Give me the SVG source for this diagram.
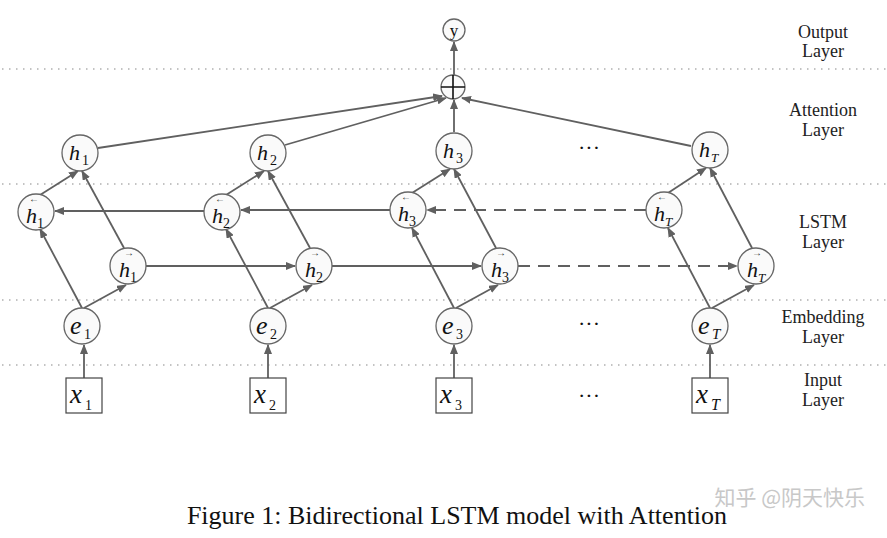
<svg xmlns="http://www.w3.org/2000/svg" width="887" height="538" viewBox="0 0 887 538">
<style>
.n{fill:#fafafa;stroke:#666;stroke-width:1.3}
.c{stroke:#606060;stroke-width:1.8;fill:none;marker-end:url(#a)}
.d{stroke-dasharray:12 8}
.dot{stroke:#888;stroke-width:1.2;stroke-dasharray:1.5 5.5}
.t{font-family:"Liberation Serif",serif;fill:#111}
.v{font-family:"Liberation Serif",serif;font-style:italic;fill:#111}
.s{font-family:"Liberation Serif",serif;fill:#111;font-size:14px}
.r{font-family:"Liberation Serif",serif;fill:#333;font-size:10px}
.l{font-family:"Liberation Serif",serif;fill:#222;font-size:18px;text-anchor:middle}
</style>
<defs><marker id="a" markerWidth="10" markerHeight="8" refX="9" refY="4" orient="auto" markerUnits="userSpaceOnUse"><path d="M0,0L10,4L0,8z" fill="#606060"/></marker></defs>
<rect width="887" height="538" fill="#fff"/>
<g id="dots">
<line class="dot" x1="2" y1="69" x2="887" y2="69"/>
<line class="dot" x1="2" y1="184" x2="887" y2="184"/>
<line class="dot" x1="2" y1="300" x2="887" y2="300"/>
<line class="dot" x1="2" y1="365" x2="887" y2="365"/>
</g>
<g id="connectors">
<line class="c" x1="454" y1="75" x2="454" y2="42"/>
<line class="c" x1="98" y1="148" x2="442" y2="96"/>
<line class="c" x1="285" y1="145" x2="446" y2="98"/>
<line class="c" x1="454" y1="132" x2="454" y2="100"/>
<line class="c" x1="691" y1="146" x2="462" y2="98"/>
<g id="col1"><line class="c" x1="84" y1="308" x2="126" y2="285"/><line class="c" x1="82" y1="308" x2="40" y2="229"/><line class="c" x1="40" y1="195" x2="78" y2="171"/><line class="c" x1="124" y1="248" x2="82" y2="171"/><line class="c" x1="84" y1="378" x2="84" y2="345"/></g>
<g><line class="c" x1="270" y1="308" x2="312" y2="285"/><line class="c" x1="268" y1="308" x2="226" y2="229"/><line class="c" x1="226" y1="195" x2="264" y2="171"/><line class="c" x1="310" y1="248" x2="268" y2="171"/><line class="c" x1="268" y1="378" x2="268" y2="345"/></g>
<g><line class="c" x1="456" y1="308" x2="498" y2="285"/><line class="c" x1="454" y1="308" x2="412" y2="228"/><line class="c" x1="412" y1="193" x2="450" y2="169"/><line class="c" x1="496" y1="248" x2="454" y2="169"/><line class="c" x1="454" y1="378" x2="454" y2="345"/></g>
<g><line class="c" x1="712" y1="308" x2="754" y2="285"/><line class="c" x1="710" y1="308" x2="668" y2="228"/><line class="c" x1="668" y1="193" x2="706" y2="168"/><line class="c" x1="752" y1="248" x2="710" y2="168"/><line class="c" x1="710" y1="378" x2="710" y2="345"/></g>
<line class="c" x1="146" y1="266" x2="295" y2="266"/>
<line class="c" x1="332" y1="266" x2="481" y2="266"/>
<line class="c d" x1="518" y1="266" x2="737" y2="266"/>
<line class="c" x1="204" y1="211" x2="55" y2="211"/>
<line class="c" x1="390" y1="210" x2="241" y2="210"/>
<line class="c d" x1="646" y1="210" x2="427" y2="210"/>
</g>
<g id="y"><circle class="n" cx="454" cy="30" r="11"/><text class="t" x="454" y="36" font-size="17" text-anchor="middle">y</text></g>
<g id="plus"><circle class="n" cx="453" cy="87" r="12"/><path d="M441,87H465M453,75V99" stroke="#111" stroke-width="1.6"/></g>
<g id="h1"><circle class="n" cx="80" cy="153" r="18"/><text class="v" x="69" y="160" font-size="22">h</text><text class="s" x="82" y="165">1</text></g>
<g id="h2"><circle class="n" cx="268" cy="153" r="18"/><text class="v" x="257" y="160" font-size="22">h</text><text class="s" x="270" y="165">2</text></g>
<g id="h3"><circle class="n" cx="454" cy="151" r="18"/><text class="v" x="443" y="158" font-size="22">h</text><text class="s" x="456" y="163">3</text></g>
<g id="hT"><circle class="n" cx="710" cy="150" r="18"/><text class="v" x="699" y="157" font-size="22">h</text><text class="v" x="711" y="162" font-size="13">T</text></g>
<g id="hb1"><circle class="n" cx="36" cy="212" r="18"/><text class="r" x="29" y="202">←</text><text class="v" x="26" y="223" font-size="22">h</text><text class="s" x="37" y="228">1</text></g>
<g id="hb2"><circle class="n" cx="222" cy="212" r="18"/><text class="r" x="215" y="202">←</text><text class="v" x="212" y="223" font-size="22">h</text><text class="s" x="223" y="228">2</text></g>
<g id="hb3"><circle class="n" cx="408" cy="210" r="18"/><text class="r" x="401" y="200">←</text><text class="v" x="398" y="221" font-size="22">h</text><text class="s" x="409" y="226">3</text></g>
<g id="hbT"><circle class="n" cx="664" cy="210" r="18"/><text class="r" x="657" y="200">←</text><text class="v" x="654" y="221" font-size="22">h</text><text class="v" x="665" y="226" font-size="13">T</text></g>
<g id="hf1"><circle class="n" cx="128" cy="266" r="18"/><text class="r" x="124" y="256">→</text><text class="v" x="119" y="277" font-size="22">h</text><text class="s" x="130" y="282">1</text></g>
<g id="hf2"><circle class="n" cx="314" cy="266" r="18"/><text class="r" x="310" y="256">→</text><text class="v" x="305" y="277" font-size="22">h</text><text class="s" x="316" y="282">2</text></g>
<g id="hf3"><circle class="n" cx="500" cy="266" r="18"/><text class="r" x="496" y="256">→</text><text class="v" x="491" y="277" font-size="22">h</text><text class="s" x="502" y="282">3</text></g>
<g id="hfT"><circle class="n" cx="756" cy="266" r="18"/><text class="r" x="752" y="256">→</text><text class="v" x="747" y="277" font-size="22">h</text><text class="v" x="758" y="282" font-size="13">T</text></g>
<g id="e1"><circle class="n" cx="82" cy="326" r="18"/><text class="v" x="70" y="334" font-size="26">e</text><text class="s" x="84" y="339" font-size="16">1</text></g>
<g id="e2"><circle class="n" cx="268" cy="326" r="18"/><text class="v" x="256" y="334" font-size="26">e</text><text class="s" x="270" y="339" font-size="16">2</text></g>
<g id="e3"><circle class="n" cx="454" cy="326" r="18"/><text class="v" x="442" y="334" font-size="26">e</text><text class="s" x="456" y="339" font-size="16">3</text></g>
<g id="eT"><circle class="n" cx="710" cy="326" r="18"/><text class="v" x="698" y="334" font-size="26">e</text><text class="v" x="712" y="339" font-size="15">T</text></g>
<g id="x1"><rect x="66" y="378" width="36" height="35" fill="#fff" stroke="#444" stroke-width="1.2"/><text class="v" x="70" y="403" font-size="27">x</text><text class="s" x="85" y="410" font-size="17">1</text></g>
<g id="x2"><rect x="250" y="378" width="36" height="35" fill="#fff" stroke="#444" stroke-width="1.2"/><text class="v" x="254" y="403" font-size="27">x</text><text class="s" x="269" y="410" font-size="17">2</text></g>
<g id="x3"><rect x="436" y="378" width="36" height="35" fill="#fff" stroke="#444" stroke-width="1.2"/><text class="v" x="440" y="403" font-size="27">x</text><text class="s" x="455" y="410" font-size="17">3</text></g>
<g id="xT"><rect x="692" y="378" width="36" height="35" fill="#fff" stroke="#444" stroke-width="1.2"/><text class="v" x="696" y="403" font-size="27">x</text><text class="v" x="711" y="410" font-size="16">T</text></g>
<g id="ellipses" class="t" font-size="22" text-anchor="middle"><text x="589" y="155">···</text><text x="589" y="331">···</text><text x="589" y="403">···</text></g>
<g id="labels">
<text class="l" x="823" y="38">Output</text><text class="l" x="823" y="57">Layer</text>
<text class="l" x="823" y="116">Attention</text><text class="l" x="823" y="136">Layer</text>
<text class="l" x="823" y="228">LSTM</text><text class="l" x="823" y="248">Layer</text>
<text class="l" x="823" y="323">Embedding</text><text class="l" x="823" y="343">Layer</text>
<text class="l" x="823" y="386">Input</text><text class="l" x="823" y="406">Layer</text>
</g>
<text class="t" x="457" y="524" font-size="26" text-anchor="middle">Figure 1: Bidirectional LSTM model with Attention</text>
<text x="865" y="505" font-size="21" fill="#c8c8c8" text-anchor="end" font-family="'Noto Sans CJK SC',sans-serif">知乎 @阴天快乐</text>
</svg>
